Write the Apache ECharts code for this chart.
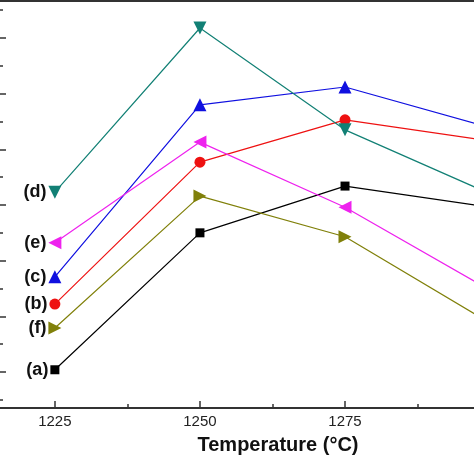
<!DOCTYPE html>
<html>
<head>
<meta charset="utf-8">
<script src="https://cdn.jsdelivr.net/npm/echarts@6/dist/echarts.min.js"></script>
<style>
html,body{margin:0;padding:0;background:#fff;}
#main{width:474px;height:474px;}
</style>
</head>
<body>
<div id="main"></div>
<script>
// sintering temperature (x) and the six samples
var temperature=[1225,1250,1275,1300];
var xTicks=[1225,1250,1275,1300];
var xTickLabels=[1225,1250,1275];
var xMinorTicks=[1237.5,1262.5,1287.5];
var yTicks=[1,2,3,4,5,6,7];
var yMinorTicks=[0.5,1.5,2.5,3.5,4.5,5.5,6.5,7.5];
var sampleA=[1.04,3.50,4.34,3.96];
var sampleB=[2.22,4.77,5.53,5.15];
var sampleC=[2.71,5.80,6.12,5.39];
var sampleD=[4.23,7.18,5.35,4.20];
var sampleE=[3.32,5.13,3.96,2.47];
var sampleF=[1.79,4.16,3.43,1.88];
var labels=['(a)','(b)','(c)','(d)','(e)','(f)'];

var font='Arial, "Liberation Sans", sans-serif';

function pairs(arr){
    var out=[];
    for(var i=0;i<arr.length;i++){
        out.push([temperature[i],arr[i]]);
    }
    return out;
}

function makeSeries(name,arr,color,symbol,size,rotate){
    return {
        name:name,
        type:'line',
        data:pairs(arr),
        symbol:symbol,
        symbolSize:size,
        symbolRotate:rotate||0,
        itemStyle:{color:color},
        lineStyle:{color:color,width:1.2},
        label:{
            show:true,
            position:'left',
            distance:2,
            color:'#111',
            fontFamily:font,
            fontWeight:'bold',
            fontSize:18,
            formatter:function(p){
                return p.dataIndex===0 ? name : '';
            }
        },
        animation:false
    };
}

var chart=echarts.init(document.getElementById('main'));

var xMin=1215.2,xMax=1311.7;
var yMin=0.353,yMax=7.665;

var option={
    backgroundColor:'#fff',
    grid:{left:-2,right:-84,top:1,bottom:66,outerBoundsMode:'none',containLabel:false,show:true,borderColor:'#333',borderWidth:2},
    xAxis:[{
        type:'value',
        min:xMin,max:xMax,
        position:'bottom',
        name:'Temperature (°C)',
        nameLocation:'middle',
        nameGap:27,
        nameTextStyle:{fontFamily:font,fontWeight:'bold',fontSize:20,color:'#111'},
        axisLine:{lineStyle:{color:'#333',width:1.5}},
        axisTick:{inside:true,length:7,customValues:xTicks,lineStyle:{color:'#333',width:1.5}},
        axisLabel:{
            margin:6,fontFamily:font,fontSize:15,color:'#222',customValues:xTickLabels,
            formatter:function(v){ return String(v); }
        },
        splitLine:{show:false}
    },{
        type:'value',
        min:xMin,max:xMax,
        position:'bottom',
        axisLine:{show:false},
        axisTick:{inside:true,length:4,customValues:xMinorTicks,lineStyle:{color:'#333',width:1.5}},
        axisLabel:{show:false},
        splitLine:{show:false}
    }],
    yAxis:[{
        type:'value',
        min:yMin,max:yMax,
        position:'left',
        axisLine:{show:true,lineStyle:{color:'#333',width:1.5}},
        axisTick:{show:true,inside:true,length:8,customValues:yTicks,lineStyle:{color:'#333',width:1.5}},
        axisLabel:{show:false},
        splitLine:{show:false}
    },{
        type:'value',
        min:yMin,max:yMax,
        position:'left',
        axisLine:{show:false},
        axisTick:{show:true,inside:true,length:5,customValues:yMinorTicks,lineStyle:{color:'#333',width:1.5}},
        axisLabel:{show:false},
        splitLine:{show:false}
    }],
    series:[
        makeSeries(labels[0],sampleA,'#000000','rect',9),
        makeSeries(labels[1],sampleB,'#ee1111','circle',11),
        makeSeries(labels[2],sampleC,'#1010e0','triangle',13),
        makeSeries(labels[3],sampleD,'#128075','triangle',13,180),
        makeSeries(labels[4],sampleE,'#ee22ee','triangle',13,90),
        makeSeries(labels[5],sampleF,'#80800a','triangle',13,-90)
    ]
};

chart.setOption(option);
</script>
</body>
</html>
